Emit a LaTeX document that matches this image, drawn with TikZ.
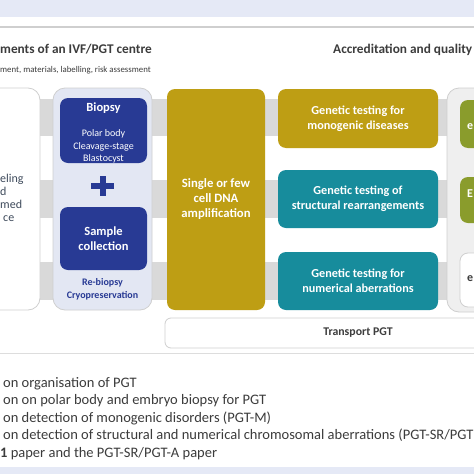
\documentclass[tikz,border=0pt]{standalone}
\usepackage{fontspec}
\setmainfont{Carlito}
\definecolor{cGold}{HTML}{BE9E14}
\definecolor{cTeal}{HTML}{178C9C}
\definecolor{cNavy}{HTML}{283A94}
\definecolor{cGreen}{HTML}{8A9C2C}
\definecolor{cBand}{HTML}{D9D9D9}
\definecolor{cLav}{HTML}{E5E9F6}
\definecolor{cCont}{HTML}{E3E7F3}
\definecolor{cRight}{HTML}{EFEFEF}
\definecolor{cText}{HTML}{3C3C3C}
\definecolor{cSlate}{HTML}{3F4B5C}
\definecolor{cEdge}{HTML}{CFCFCF}
\tikzset{
  cbox/.style={rounded corners=8pt, align=center, inner sep=0pt, text=white,
    font=\bfseries\fontsize{12.2}{15}\selectfont},
  cont/.style={rounded corners=12pt, draw=cEdge, line width=0.8pt, inner sep=0pt},
  band/.style={fill=cBand, draw=none},
  list/.style={anchor=base west, inner sep=0pt, text=cText, font=\fontsize{14.5}{17}\selectfont},
  navytxt/.style={inner sep=0pt, text=cNavy, font=\bfseries\fontsize{10}{12}\selectfont},
  lefttxt/.style={anchor=base west, inner sep=0pt, text=cSlate, font=\fontsize{12}{13}\selectfont},
  btxt/.style={anchor=base, inner sep=0pt, text=white, font=\fontsize{10}{12}\selectfont}
}
\begin{document}
\begin{tikzpicture}[x=1pt,y=-1pt]
\useasboundingbox (0,0) rectangle (474,474);
\clip (0,0) rectangle (474,474);
\fill[white] (0,0) rectangle (474,474);
% top band and rule
\fill[cLav] (0,0) rectangle (474,17);
\draw[cEdge, line width=1.2pt] (0,27) -- (474,27);
% titles
\node[anchor=base west, inner sep=0pt, text=cText, font=\bfseries\fontsize{13.3}{15}\selectfont] (title) at (0,53) {ments of an IVF/PGT centre};
\node[anchor=base west, inner sep=0pt, text=cText, font=\bfseries\fontsize{13.3}{15}\selectfont] (acc) at (333,53) {Accreditation and quality};
\node[anchor=base west, inner sep=0pt, text=cText, font=\fontsize{8.8}{10}\selectfont] (sub) at (0,72) {ment, materials, labelling, risk assessment};
% gray bands
\fill[band] (0,99) rectangle (474,136);
\fill[band] (0,180) rectangle (474,218);
\fill[band] (0,262) rectangle (474,300);
% left box
\node[cont, fill=white, minimum width=60pt, minimum height=222pt] (left) at (10,199) {};
\node[lefttxt] (l1) at (0,182) {eling};
\node[lefttxt] (l2) at (0,195) {d};
\node[lefttxt] (l3) at (0,208) {med};
\node[lefttxt] (l4) at (3,221) {ce};
% biopsy container
\node[cont, fill=cCont, minimum width=99pt, minimum height=222pt] (bcont) at (102.5,199) {};
\node[cbox, fill=cNavy, minimum width=87pt, minimum height=65pt] (biopsy) at (103.5,130.5) {};
\node[inner sep=0pt, text=white, font=\bfseries\fontsize{12.5}{14}\selectfont, anchor=base] (bt) at (103.5,111) {Biopsy};
\node[btxt] (bl1) at (103.5,136.5) {Polar body};
\node[btxt] (bl2) at (103.5,149.5) {Cleavage-stage};
\node[btxt] (bl3) at (103.5,161.5) {Blastocyst};
\draw[cNavy, line width=6pt] (91,186) -- (114,186);
\draw[cNavy, line width=6pt] (102.5,176) -- (102.5,196);
\node[cbox, fill=cNavy, minimum width=87pt, minimum height=63pt, font=\bfseries\fontsize{12.5}{15}\selectfont] (sample) at (103.5,238.5) {Sample\\collection};
\node[navytxt] (rb) at (102.5,283) {Re-biopsy};
\node[navytxt] (cp) at (102.5,296) {Cryopreservation};
% amplification
\node[cbox, fill=cGold, minimum width=98pt, minimum height=221pt, font=\bfseries\fontsize{12.7}{15}\selectfont] (amp) at (216,199.5) {Single or few\\cell DNA\\amplification};
% testing boxes
\node[cbox, fill=cGold, minimum width=160pt, minimum height=59pt] (mono) at (358,118.5) {Genetic testing for\\monogenic diseases};
\node[cbox, fill=cTeal, minimum width=160pt, minimum height=58pt] (struct) at (358,199) {Genetic testing of\\structural rearrangements};
\node[cbox, fill=cTeal, minimum width=160pt, minimum height=58pt] (numer) at (358,281) {Genetic testing for\\numerical aberrations};
% right container
\node[cont, fill=cRight, minimum width=83pt, minimum height=224pt] (rcont) at (488.5,200) {};
\node[cbox, fill=cGreen, minimum width=70pt, minimum height=48pt] (g1) at (495,124) {};
\node[cbox, fill=cGreen, minimum width=70pt, minimum height=46pt] (g2) at (495,200) {};
\node[cbox, fill=white, draw=cEdge, line width=0.8pt, minimum width=70pt, minimum height=54pt] (g3) at (495,280) {};
\node[anchor=base west, inner sep=0pt, text=white, font=\bfseries\fontsize{12}{14}\selectfont] (e1) at (467,129) {e};
\node[anchor=base west, inner sep=0pt, text=white, font=\bfseries\fontsize{12}{14}\selectfont] (e2) at (467,197) {E};
\node[anchor=base west, inner sep=0pt, text=cText, font=\bfseries\fontsize{12}{14}\selectfont] (e3) at (467,281) {e};
% transport
\node[rounded corners=6pt, fill=white, draw=cEdge, line width=0.8pt, minimum width=395pt, minimum height=30pt, inner sep=0pt] (trbox) at (362.5,333) {};
\node[inner sep=0pt, text=cText, font=\bfseries\fontsize{11.8}{13}\selectfont] (tr) at (358,333) {Transport PGT};
\draw[cEdge!70, line width=0.8pt] (0,353) -- (474,353);
% list
\node[list] (t1) at (3,387) {on organisation of PGT};
\node[list] (t2) at (3,404.5) {on on polar body and embryo biopsy for PGT};
\node[list] (t3) at (3,422) {on detection of monogenic disorders (PGT-M)};
\node[list] (t4) at (3,439.5) {on detection of structural and numerical chromosomal aberrations (PGT-SR/PGT};
\node[list] (t5) at (0,457) {\textbf{1} paper and the PGT-SR/PGT-A paper};
% bottom band
\fill[cLav] (0,467) rectangle (474,474);
\end{tikzpicture}
\end{document}
